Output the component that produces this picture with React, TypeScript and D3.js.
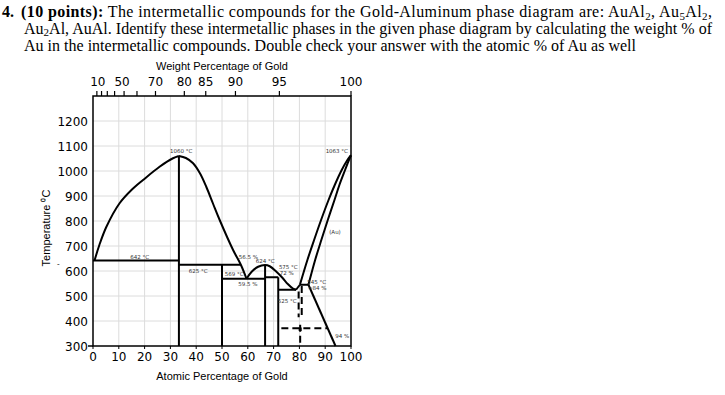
import React from 'react';
import * as d3 from 'd3';

// atomic % Au / temperature (°C)
const leftLiquidus: [number, number][] = [
  [0.6, 642], [2.5, 705], [5.2, 777], [10.3, 871], [15, 925], [19.4, 964],
  [25.8, 1017], [31, 1051], [33.3, 1060],
];
const rightLiquidus: [number, number][] = [
  [33.3, 1060], [36, 1052], [38.8, 1031], [41.5, 990], [43.9, 937],
  [46.5, 870], [49.1, 804], [54.3, 684], [57.3, 625], [59.5, 569],
];
const dome: [number, number][] = [
  [59.5, 569], [61.5, 597], [64, 617], [66.7, 624], [68.5, 619], [71, 598],
  [73.5, 572], [75.5, 548], [77.5, 530], [78.7, 525],
];
const auLiquidus: [number, number][] = [
  [100, 1063], [98.6, 1044], [96.4, 1004], [93.7, 944], [91.3, 884], [88.4, 804],
  [85.7, 724], [83.1, 644], [80.2, 545],
];
const auSolidus: [number, number][] = [
  [100, 1063], [99.2, 1044], [97.7, 1004], [95.5, 944], [93.6, 884], [91, 804],
  [88.5, 724], [86.1, 644], [83.5, 545],
];
const kink: [number, number][] = [[80.2, 545], [78.7, 525]];
const solvus: [number, number][] = [[83.5, 545], [94, 300]];

// [x1, x2, temperature]
const isotherms: [number, number, number][] = [
  [0, 33.3, 642], [33.3, 57.3, 625], [50, 66.7, 569], [66.7, 71.8, 575],
  [71.8, 78.7, 525], [80.2, 83.5, 545],
];
// [atomic %, top temperature]
const compounds: [number, number][] = [[33.3, 1060], [50, 625], [66.7, 624], [71.8, 575]];

// dashed lines: [x1, t1, x2, t2]
const dashed: [number, number, number, number][] = [
  [73, 371, 91, 371], [79.7, 518, 79.7, 415], [80.9, 540, 80.9, 415], [80.3, 385, 80.3, 300],
];

const notes: [string, number, number][] = [
  ['1060 °C', 34.2, 1071], ['642 °C', 18.1, 648], ['625 °C', 40.8, 592], ['569 °C', 54.7, 579],
  ['59.5 %', 60, 541], ['56.5 %', 60.2, 649], ['624 °C', 66.7, 632], ['575 °C', 75.7, 609],
  ['72 %', 75.1, 583], ['545 °C', 86.7, 549], ['≈84 %', 86.9, 525], ['525 °C', 75.3, 472],
  ['94 %', 96.6, 333], ['1063 °C', 94.5, 1073], ['(Au)', 93.8, 749],
];

const atomicTicks = [0, 10, 20, 30, 40, 50, 60, 70, 80, 90, 100];
const tempTicks = [300, 400, 500, 600, 700, 800, 900, 1000, 1100, 1200];
const weightTicks = [10, 20, 30, 40, 50, 60, 70, 80, 85, 90, 95, 100];
const weightLabels = [10, 50, 70, 80, 85, 90, 95, 100];

const AU = 196.97;
const AL = 26.98;
const wtToAt = (w: number) => (100 * (w / AU)) / (w / AU + (100 - w) / AL);

const x = d3.scaleLinear().domain([0, 100]).range([93, 351]);
const y = d3.scaleLinear().domain([300, 1300]).range([346, 96]);

const curve = d3.line<[number, number]>()
  .x(d => x(d[0]))
  .y(d => y(d[1]))
  .curve(d3.curveCatmullRom.alpha(0.5));
const straight = d3.line<[number, number]>().x(d => x(d[0])).y(d => y(d[1]));

const serif = 'Liberation Serif, Times New Roman, serif';
const sans = 'Liberation Sans, Arial, sans-serif';
const deja = 'DejaVu Sans, sans-serif';

export default function App() {
  return (
    <svg width={725} height={395} style={{ position: 'absolute', left: 0, top: 0, background: '#fff' }}>
      <rect width={725} height={395} fill="#fff" />

      {/* question text */}
      <g fontFamily={serif} fontSize={16} fill="#000">
        <text x={2} y={17} fontWeight="bold">4.</text>
        <text x={21} y={17} textLength={691} lengthAdjust="spacing">
          <tspan fontWeight="bold">(10 points):</tspan>
          <tspan> The intermetallic compounds for the Gold-Aluminum phase diagram are: AuAl</tspan>
          <tspan dy={3} fontSize={11}>2</tspan>
          <tspan dy={-3}>, Au</tspan>
          <tspan dy={3} fontSize={11}>5</tspan>
          <tspan dy={-3}>Al</tspan>
          <tspan dy={3} fontSize={11}>2</tspan>
          <tspan dy={-3}>,</tspan>
        </text>
        <text x={24} y={34} textLength={688} lengthAdjust="spacing">
          <tspan>Au</tspan>
          <tspan dy={2} fontSize={11}>2</tspan>
          <tspan dy={-2}>Al, AuAl. Identify these intermetallic phases in the given phase diagram by calculating the weight % of</tspan>
        </text>
        <text x={24} y={51} textLength={612} lengthAdjust="spacing">
          Au in the intermetallic compounds. Double check your answer with the atomic % of Au as well
        </text>
      </g>

      {/* grid */}
      <g stroke="#dcdcdc" strokeWidth={1}>
        {atomicTicks.slice(1, -1).map(t => (
          <line key={'gx' + t} x1={x(t)} x2={x(t)} y1={y(1300)} y2={y(300)} />
        ))}
        {tempTicks.slice(1).map(t => (
          <line key={'gy' + t} x1={x(0)} x2={x(100)} y1={y(t)} y2={y(t)} />
        ))}
      </g>

      {/* phase boundaries */}
      <g fill="none" stroke="#000" strokeWidth={2}>
        <path d={curve(leftLiquidus) ?? ''} />
        <path d={curve(rightLiquidus) ?? ''} />
        <path d={curve(dome) ?? ''} />
        <path d={curve(auLiquidus) ?? ''} />
        <path d={curve(auSolidus) ?? ''} />
        <path d={straight(kink) ?? ''} />
        <path d={straight(solvus) ?? ''} />
        {isotherms.map(([a, b, t], i) => (
          <line key={'iso' + i} x1={x(a)} x2={x(b)} y1={y(t)} y2={y(t)} />
        ))}
        {compounds.map(([a, t], i) => (
          <line key={'cmp' + i} x1={x(a)} x2={x(a)} y1={y(t)} y2={y(300)} />
        ))}
        {dashed.map(([a, t1, b, t2], i) => (
          <line key={'d' + i} x1={x(a)} x2={x(b)} y1={y(t1)} y2={y(t2)} strokeDasharray="7,4" />
        ))}
        <line x1={x(80.3)} x2={x(80.3)} y1={y(374)} y2={y(360)} strokeWidth={3} />
      </g>

      {/* notes */}
      <g fontFamily={deja} fontSize={5.5} fill="#333" textAnchor="middle">
        {notes.map(([s, a, t], i) => (
          <text key={'n' + i} x={x(a)} y={y(t)}>{s}</text>
        ))}
      </g>

      {/* frame */}
      <rect x={x(0)} y={y(1300)} width={x(100) - x(0)} height={y(300) - y(1300)} fill="none" stroke="#000" strokeWidth={1.5} />

      {/* bottom axis */}
      <g fontFamily={deja} fontSize={12} fill="#000" textAnchor="middle">
        {atomicTicks.map(t => (
          <g key={'bx' + t}>
            <line x1={x(t)} x2={x(t)} y1={y(300)} y2={y(300) + 3} stroke="#000" />
            <text x={x(t)} y={y(300) + 15}>{t}</text>
          </g>
        ))}
      </g>
      <text x={222} y={380} fontFamily={sans} fontSize={11} textAnchor="middle">Atomic Percentage of Gold</text>

      {/* left axis */}
      <g fontFamily={deja} fontSize={12} fill="#000" textAnchor="end">
        {tempTicks.map(t => (
          <text key={'ly' + t} x={88} y={y(t) + 4.5}>{t}</text>
        ))}
      </g>
      <line x1={88} x2={93} y1={y(300)} y2={y(300)} stroke="#000" strokeWidth={1.5} />
      <text transform="translate(50,228) rotate(-90)" fontFamily={sans} fontSize={11} textAnchor="middle">
        Temperature ⁰C
      </text>
      <text x={57} y={266} fontFamily={sans} fontSize={8}>-</text>

      {/* top axis: weight % */}
      <g fontFamily={deja} fontSize={12} fill="#000" textAnchor="middle">
        {weightTicks.map(w => (
          <line key={'wt' + w} x1={x(wtToAt(w))} x2={x(wtToAt(w))} y1={y(1300)} y2={y(1300) - 5} stroke="#000" strokeWidth={1.2} />
        ))}
        {weightLabels.map(w => (
          <text key={'wl' + w} x={w === 10 ? x(wtToAt(w)) + 1 : w === 50 ? x(wtToAt(w)) - 2 : x(wtToAt(w))} y={86}>{w}</text>
        ))}
      </g>
      <text x={222} y={70} fontFamily={sans} fontSize={11} textAnchor="middle">Weight Percentage of Gold</text>
    </svg>
  );
}
